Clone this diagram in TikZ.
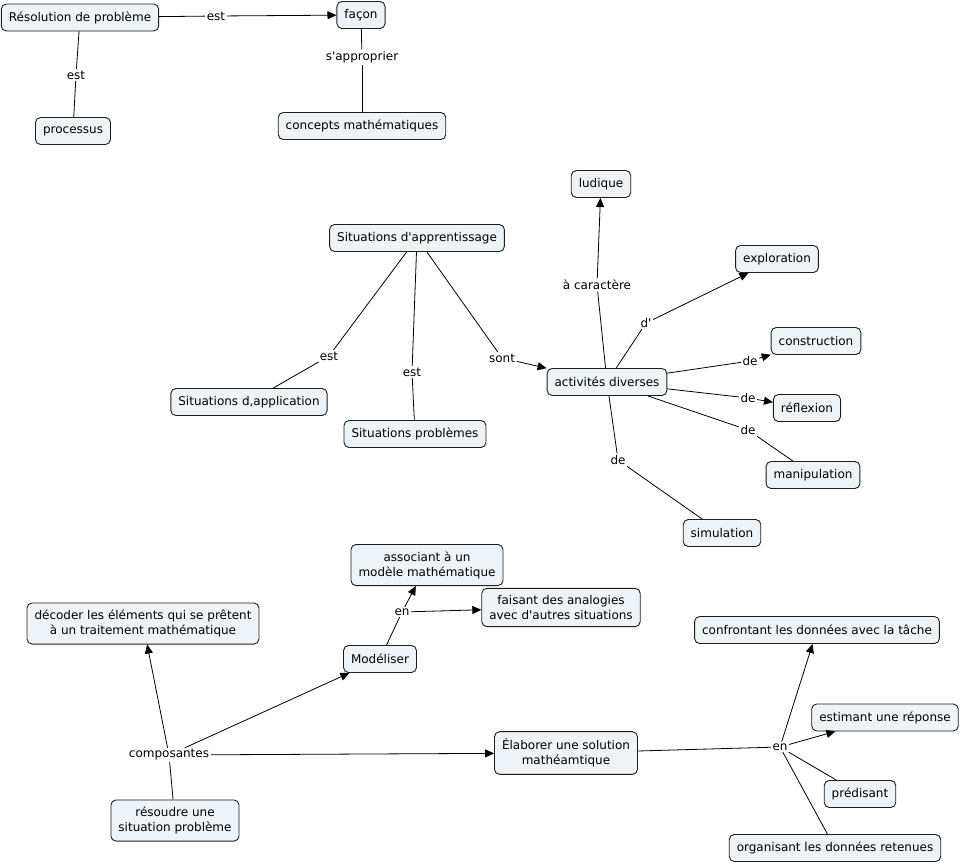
\documentclass[tikz,border=0pt]{standalone}
\usepackage{fontspec}
\setmainfont{DejaVu Sans}
\usepackage{xcolor}
\usepackage{tikz}
\usetikzlibrary{arrows.meta}
\definecolor{conceptfill}{RGB}{237,243,246}
\definecolor{conceptline}{RGB}{30,30,30}
\newcommand{\apos}{\textquotesingle}

\begin{document}
\begin{tikzpicture}[x=1pt, y=-1pt,
concept/.style={draw=conceptline, rounded corners=5pt, fill=conceptfill, line width=0.9pt, inner xsep=7.5pt, inner ysep=7pt, minimum height=27pt, align=center, font=\fontsize{12}{15}\selectfont},
linkword/.style={fill=white, inner sep=1.5pt, font=\fontsize{12}{15}\selectfont},
link/.style={draw=black, line width=0.8pt},
arrow/.style={-{Triangle[length=9pt, width=8pt]}, line width=0.8pt, black}
]
\useasboundingbox (0,0) rectangle (962,865);

% first map
\node[concept] (resol) at (80,17.5) {Résolution de problème};
\node[concept] (facon) at (361,15) {façon};
\node[concept] (proc) at (73,131) {processus};
\node[concept] (concepts) at (362,126) {concepts mathématiques};
\node[linkword] (est1) at (216,16) {est};
\node[linkword] (est2) at (76,75) {est};
\node[linkword] (sappr) at (362,57) {s\apos{}approprier};

\draw[link] (resol) -- (est1);
\draw[arrow] (est1) -- (facon);
\draw[link] (resol) -- (est2);
\draw[link] (est2) -- (proc);
\draw[link] (facon) -- (sappr);
\draw[link] (sappr) -- (concepts);

% second map
\node[concept] (sitapp) at (417,238) {Situations d\apos{}apprentissage};
\node[concept] (ludique) at (601,184) {ludique};
\node[concept] (explo) at (777,259) {exploration};
\node[concept] (constr) at (816,341) {construction};
\node[concept] (activ) at (607,382) {activités diverses};
\node[concept] (reflex) at (807,408) {réflexion};
\node[concept] (sitappl) at (249,402) {Situations d,application};
\node[concept] (sitprob) at (415,434) {Situations problèmes};
\node[concept] (manip) at (813,475) {manipulation};
\node[concept] (simul) at (722,533) {simulation};
\node[linkword] (est3) at (329,356) {est};
\node[linkword] (est4) at (412,372) {est};
\node[linkword] (sont) at (502,358) {sont};
\node[linkword] (acaract) at (597,285) {à caractère};
\node[linkword] (dap) at (646,323) {d\apos};
\node[linkword] (de1) at (750,361) {de};
\node[linkword] (de2) at (748,398) {de};
\node[linkword] (de3) at (748,430) {de};
\node[linkword] (de4) at (618,460) {de};

\draw[link] (sitapp) -- (est3);
\draw[link] (est3) -- (sitappl);
\draw[link] (sitapp) -- (est4);
\draw[link] (est4) -- (sitprob);
\draw[link] (sitapp) -- (sont);
\draw[arrow] (sont) -- (activ);
\draw[link] (activ) -- (acaract);
\draw[arrow] (acaract) -- (ludique);
\draw[link] (activ) -- (dap);
\draw[arrow] (dap) -- (explo);
\draw[link] (activ) -- (de1);
\draw[arrow] (de1) -- (constr);
\draw[link] (activ) -- (de2);
\draw[arrow] (de2) -- (reflex);
\draw[link] (activ) -- (de3);
\draw[link] (de3) -- (manip);
\draw[link] (activ) -- (de4);
\draw[link] (de4) -- (simul);

% third map
\node[concept] (assoc) at (427,565) {associant à un\\modèle mathématique};
\node[concept] (decoder) at (143,623.5) {décoder les éléments qui se prêtent\\à un traitement mathématique};
\node[concept] (analog) at (561,607.5) {faisant des analogies\\avec d\apos{}autres situations};
\node[concept] (model) at (380,659) {Modéliser};
\node[concept] (confront) at (817,630) {confrontant les données avec la tâche};
\node[concept] (estim) at (885,717.5) {estimant une réponse};
\node[concept] (elabor) at (566,753) {Élaborer une solution\\mathéamtique};
\node[concept] (predis) at (860,794) {prédisant};
\node[concept] (resoudre) at (175,820.5) {résoudre une\\situation problème};
\node[concept] (organis) at (835,848) {organisant les données retenues};
\node[linkword] (compos) at (169,755) {composantes};
\node[linkword] (en1) at (402,612) {en};
\node[linkword] (en2) at (780,747) {en};

\draw[link] (resoudre) -- (compos);
\draw[arrow] (compos) -- (decoder);
\draw[arrow] (compos) -- (model);
\draw[arrow] (compos) -- (elabor);
\draw[link] (model) -- (en1);
\draw[arrow] (en1) -- (assoc);
\draw[arrow] (en1) -- (analog);
\draw[link] (elabor) -- (en2);
\draw[arrow] (en2) -- (confront);
\draw[arrow] (en2) -- (estim);
\draw[link] (en2) -- (predis);
\draw[link] (en2) -- (organis);
\end{tikzpicture}
\end{document}
